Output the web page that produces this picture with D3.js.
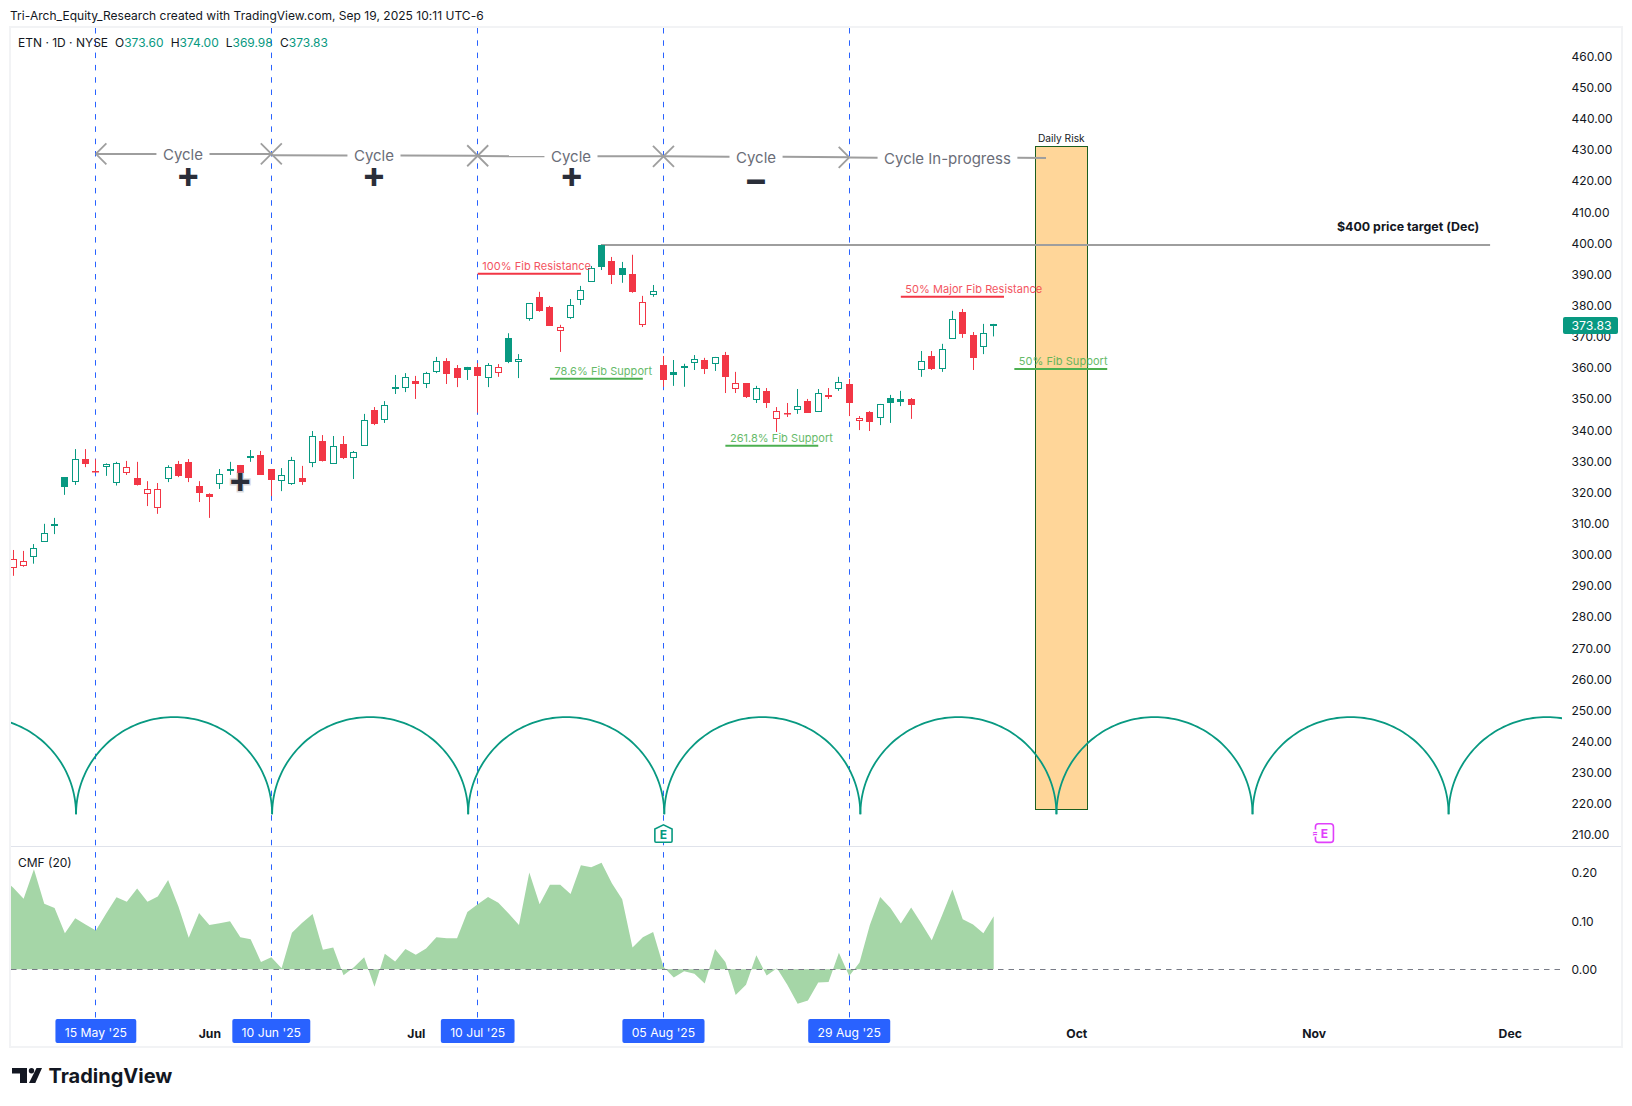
<![CDATA[<!DOCTYPE html>
<html><head><meta charset="utf-8">
<script src="https://cdn.jsdelivr.net/npm/d3@7/dist/d3.min.js"></script>
<style>html,body{margin:0;padding:0;background:#fff}svg{display:block}text{font-family:Inter,"Noto Sans",sans-serif}</style>
</head><body><svg id="c" width="1632" height="1106"></svg>
<script>
const opens=[295.8,296.2,299.4,304.2,309.4,324.8,323.4,330.5,326.7,328.2,323.1,326.3,324.5,319.6,315.1,324.4,329.0,329.7,321.9,319.4,322.8,326.9,328.7,331.0,331.9,327.4,323.8,322.8,324.5,329.8,
336.4,329.4,335.4,331.1,334.9,346.4,343.4,353.2,353.6,355.7,354.9,358.7,362.1,359.8,360.2,360.2,356.7,358.3,369.5,361.9,
375.7,382.6,379.4,371.8,376.3,381.8,387.6,399.4,394.2,392.0,390.0,374.0,383.4,360.8,358.6,360.0,361.6,362.4,361.3,364.0,
353.2,355.0,349.7,352.5,343.6,345.4,346.6,349.3,345.8,351.2,353.3,354.7,342.9,345.7,343.9,350.2,349.9,349.9,359.4,363.7,359.7,369.5,377.8,370.4,366.7,373.60];
const highs=[301.4,301.1,303.3,309.8,311.7,324.8,333.8,333.8,330.5,329.2,329.7,330.0,329.7,323.5,322.9,328.6,330.0,330.6,323.5,319.6,327.4,329.7,328.7,333.5,333.2,327.4,327.7,331.3,328.4,339.6,
338.3,338.0,338.0,333.2,345.1,347.3,349.2,357.6,358.2,357.3,358.6,363.4,363.0,360.8,360.2,361.4,361.4,361.1,371.0,364.3,
380.6,384.3,379.8,373.7,382.0,386.2,392.6,399.4,395.5,393.9,396.2,383.0,386.5,363.7,362.4,361.2,364.0,363.1,363.4,365.0,
358.6,355.0,354.1,353.4,347.3,348.6,353.1,349.9,353.1,353.4,357.0,356.3,344.4,346.0,348.3,351.2,352.5,350.2,365.3,365.3,367.6,378.2,378.8,371.4,374.0,374.00];
const lows=[293.1,296.0,297.0,304.1,306.5,319.1,322.3,328.0,326.3,325.2,322.1,325.5,322.1,315.5,313.0,323.2,324.8,323.2,316.8,311.7,321.0,325.5,321.2,329.7,325.5,318.7,320.3,322.3,322.3,328.0,
329.8,329.4,330.6,324.2,334.8,341.5,342.2,351.5,352.1,349.9,353.4,358.2,354.7,353.7,356.0,345.5,353.7,357.0,361.4,356.6,
375.0,377.9,373.4,365.0,375.6,380.1,387.5,391.3,386.8,387.2,384.0,373.0,382.7,353.8,354.1,353.8,359.2,357.9,358.9,351.8,
351.8,350.2,348.6,347.0,339.3,344.1,345.1,345.4,345.7,349.9,352.5,344.4,339.9,339.6,341.5,342.2,347.6,343.5,357.0,359.2,358.6,369.2,369.5,359.2,364.3,369.98];
const closes=[298.4,297.6,301.9,306.7,309.7,321.7,330.5,328.8,326.4,328.8,329.2,327.9,322.1,320.9,320.9,327.9,325.3,324.6,319.8,318.5,325.7,327.1,326.1,331.3,325.5,323.9,325.4,330.2,323.2,338.0,
330.0,334.7,331.0,332.8,343.0,341.9,347.9,353.5,356.8,354.7,358.1,362.0,357.9,356.6,359.2,357.3,360.5,360.0,361.8,362.6,
380.6,378.2,373.4,372.7,380.0,384.8,391.9,392.3,389.7,389.7,384.2,381.0,384.5,356.0,357.6,360.3,362.7,359.6,363.1,357.0,
354.9,350.5,353.3,348.6,345.9,345.2,347.5,345.4,351.7,350.6,355.2,348.6,343.7,342.5,348.0,348.6,348.9,348.0,362.0,359.5,365.8,375.5,370.8,363.1,371.0,373.83];
const tones="rrtttttrrttrrrrtrrrrttrtrrttrt"+"rtrttrtttrttrrtrtrtt"+"trrrttttrtrrtrtttrtr"+"rrtrrrtrtrtrrrtttrtrttrrtt";
const cmfPrior=0.186;
const cmf=[.168,.145,.206,.135,.126,.074,.105,.092,.080,.115,.148,.139,.166,.139,.150,.184,.129,.065,.116,.091,.095,.099,.066,.062,.015,.025,.002,.075,.096,.114,
.040,.045,-.012,.004,.025,-.036,.032,.016,.042,.030,.043,.066,.064,.064,.118,.134,.149,.137,.115,.091,
.199,.134,.174,.174,.155,.214,.210,.219,.177,.144,.045,.066,.077,.005,-.017,-.004,-.009,-.029,.042,.015,
-.053,-.032,.029,-.013,.002,-.032,-.071,-.064,-.027,-.026,.034,-.014,.014,.091,.149,.126,.094,.127,.094,.060,.111,.164,.103,.092,.074,.109];
const priceTicks=d3.range(210,461,10);
const cmfTicks=[0,0.1,0.2];
const monthBars=[19,39,103,126,145];
const monthLabels=["Jun","Jul","Oct","Nov","Dec"];
const cycleBars=[8,25,45,63,81];
const cycleLabels=["15 May '25","10 Jun '25","10 Jul '25","05 Aug '25","29 Aug '25"];
const cycleTexts=["Cycle","Cycle","Cycle","Cycle","Cycle In-progress"];
const cycleTextBars=[16.44,34.95,54.04,71.97,90.52];
const cycleStarts=[428.6,428.2,427.9,427.8,427.4];
const cycleEnds=[428.6,428.0,427.8,427.5,427.3];
const cycleEndBars=[25,45,63,81,100.07];
const fibLabels=["100% Fib Resistance","78.6% Fib Support","261.8% Fib Support","50% Major Fib Resistance","50% Fib Support"];
const fibPrices=[390.1,356.4,334.9,382.7,359.5];
const fibFrom=[45,52,69,86,97];
const fibTo=[55,61,78,96,106];
const fibKinds=["r","g","g","r","g"];
const signBars=[16.95,34.95,54.1,71.97,21.98];
const signPrices=[421.9,421.9,421.9,420.4,324.2];
const signTexts=["+","+","+","\u2212","+"];

const W=1632,H=1106;
const x=d3.scaleLinear().domain([0,95]).range([13.3,993.7]);
const y=d3.scaleLinear().domain([210,460]).range([834.6,56.1]);
const yc=d3.scaleLinear().domain([0,0.2]).range([969.3,872.1]);
const TEAL="#089981",RED="#F23645",BLUE="#2962FF",GRAY="#9e9e9e",INK="#131722";
const svg=d3.select("#c");
const snap=v=>Math.round(v-0.5)+0.5;
const defs=svg.append("defs");
defs.append("clipPath").attr("id","plot").append("rect").attr("x",11).attr("y",28).attr("width",1551).attr("height",1016);

// header
svg.append("text").attr("x",10).attr("y",20).attr("font-size",12).attr("letter-spacing",0.025).attr("fill",INK).text("Tri-Arch_Equity_Research created with TradingView.com, Sep 19, 2025 10:11 UTC-6");
// frame
svg.append("rect").attr("x",10).attr("y",27).attr("width",1612).attr("height",1020).attr("fill","#fff").attr("stroke","#f2f3f5").attr("stroke-width",2);
svg.append("line").attr("x1",11).attr("x2",1621).attr("y1",846.5).attr("y2",846.5).attr("stroke","#e0e3eb");

const plot=svg.append("g").attr("clip-path","url(#plot)");
// vertical markers
plot.selectAll(".v").data(cycleBars).join("line").attr("class","v")
 .attr("x1",d=>snap(x(d))).attr("x2",d=>snap(x(d))).attr("y1",28).attr("y2",1019)
 .attr("stroke",BLUE).attr("stroke-width",1).attr("stroke-dasharray","5.5 6.8");
// risk rectangle
const rx0=snap(x(99.05)),rx1=snap(x(104.1)),ry0=snap(y(431)),ry1=snap(y(217.9));
plot.append("rect").attr("x",rx0).attr("width",rx1-rx0).attr("y",ry0).attr("height",ry1-ry0)
 .attr("fill","#FFD699").attr("stroke","#1B5E20").attr("stroke-width",1);
plot.append("text").attr("x",x(101.55)).attr("y",y(431)-4.5).attr("text-anchor","middle").attr("font-size",10.2).attr("fill",INK).text("Daily Risk");
// time cycles
const arcPeriod=19,arcFirst=-12.92,arcBase=216.5,arcTop=247.75;
const arcLine=d3.line().x(d=>x(d[0])).y(d=>y(d[1]));
d3.range(0,9).forEach(k=>{
  const c=arcFirst+k*arcPeriod;
  const pts=d3.range(0,181,2).map(a=>{const t=a*Math.PI/180;return [c+arcPeriod/2-arcPeriod/2*Math.cos(t),arcBase+(arcTop-arcBase)*Math.sin(t)];});
  plot.append("path").attr("d",arcLine(pts)).attr("fill","none").attr("stroke",TEAL).attr("stroke-width",1.8);
});
// target line
plot.append("line").attr("x1",x(57)-0.5).attr("x2",x(143.1)).attr("y1",Math.round(y(399.4))).attr("y2",Math.round(y(399.4))).attr("stroke",GRAY).attr("stroke-width",2);
plot.append("text").attr("x",x(142)+0.5).attr("y",y(399.4)-13.5).attr("text-anchor","end").attr("font-size",12.4).attr("font-weight",700).attr("fill",INK).text("$400 price target (Dec)");
// candles
const cg=plot.append("g");
closes.forEach((c,i)=>{
  const col=tones[i]==="t"?TEAL:RED, o=opens[i], hollow=c>o, xc=snap(x(i));
  const top=Math.max(o,c), bot=Math.min(o,c);
  const yt=y(top), yb=y(bot);
  cg.append("line").attr("x1",xc).attr("x2",xc).attr("y1",y(highs[i])).attr("y2",y(lows[i])).attr("stroke",col);
  if(hollow){
    cg.append("rect").attr("x",xc-3).attr("width",6).attr("y",snap(yt)).attr("height",Math.max(1,Math.round(yb-yt))).attr("fill","#fff").attr("stroke",col);
  } else {
    cg.append("rect").attr("x",xc-3.5).attr("width",7).attr("y",Math.round(yt)).attr("height",Math.max(1.5,Math.round(yb-yt))).attr("fill",col);
  }
});
// CMF
const cmfPts=[[-1,cmfPrior]].concat(cmf.map((v,i)=>[i,v]));
plot.append("path").attr("d",d3.area().x(d=>x(d[0])).y0(yc(0)).y1(d=>yc(d[1]))(cmfPts)).attr("fill","#A5D6A7");
plot.append("line").attr("x1",11).attr("x2",1562).attr("y1",snap(yc(0))).attr("y2",snap(yc(0))).attr("stroke","#787b86").attr("stroke-dasharray","5.5 5");
// cycle arrows
const cyc=plot.append("g");
function seg(a,pa,b,pb){cyc.append("line").attr("x1",a).attr("x2",b).attr("y1",pa).attr("y2",pb).attr("stroke",GRAY).attr("stroke-width",2);}
cycleTexts.forEach((t,k)=>{
  const xa=x(cycleBars[k]),xb=x(cycleEndBars[k]),ya=y(cycleStarts[k]),yb=y(cycleEnds[k]),cx=x(cycleTextBars[k]);
  const tx=cyc.append("text").attr("x",cx).attr("y",(ya+yb)/2+0.6).attr("dy","0.35em").attr("text-anchor","middle").attr("font-size",15).attr("fill","#6a6d78").text(t);
  const w=tx.node().getComputedTextLength();
  const m=(ya+yb)/2;
  seg(xa,ya,cx-w/2-6.5,m); seg(cx+w/2+6.5,m,xb,yb);
});
function cross(px,py){const r=10.5;[[-r,-r,r,r],[-r,r,r,-r]].forEach(s=>cyc.append("line").attr("x1",px+s[0]).attr("y1",py+s[1]).attr("x2",px+s[2]).attr("y2",py+s[3]).attr("stroke",GRAY).attr("stroke-width",1.8));}
function head(px,py,dir){const r=10.5;[-r,r].forEach(s=>cyc.append("line").attr("x1",px).attr("y1",py).attr("x2",px+dir*r).attr("y2",py+s).attr("stroke",GRAY).attr("stroke-width",1.8));}
head(x(8),y(428.6),1);
cross(x(25),y(428.6));cross(x(45),y(428));cross(x(63),y(427.8));
head(x(81),y(427.5),-1);
// signs
signTexts.forEach((t,k)=>{
  const s=plot.append("text").attr("x",x(signBars[k])).attr("y",y(signPrices[k])).attr("dy","0.35em").attr("text-anchor","middle").attr("font-size",36).attr("font-weight",700).attr("fill","#2a2e39").text(t);
  if(k===4) s.attr("stroke","rgba(120,123,134,.28)").attr("stroke-width",3).attr("paint-order","stroke");
});
// fib levels
fibLabels.forEach((t,k)=>{
  const col=fibKinds[k]==="r"?RED:"#4CAF50";
  plot.append("line").attr("x1",x(fibFrom[k])).attr("x2",x(fibTo[k])).attr("y1",y(fibPrices[k])).attr("y2",y(fibPrices[k])).attr("stroke",col).attr("stroke-width",2);
  plot.append("text").attr("x",x(fibFrom[k])+4.5).attr("y",y(fibPrices[k])-7.8).attr("dy","0.35em").attr("font-size",11).attr("letter-spacing",0.05).attr("fill",col).attr("opacity",0.85).text(t);
});
// earnings icons
const ex=x(63);
const eg=plot.append("g").attr("transform",`translate(${ex},${y(210)-2})`);
eg.append("path").attr("d","M-8.6,-1 L-8.6,-3.5 L0,-7.8 L8.6,-3.5 L8.6,8.5 Q8.6,9.6 7.5,9.6 L-7.5,9.6 Q-8.6,9.6 -8.6,8.5 Z").attr("fill","#fff").attr("stroke",TEAL).attr("stroke-width",1.6);
eg.append("text").attr("y",6).attr("text-anchor","middle").attr("font-size",12).attr("font-weight",700).attr("fill",TEAL).text("E");
const px=x(127);
const pg=plot.append("g").attr("transform",`translate(${px},${y(210)-2})`);
pg.append("rect").attr("x",-8.5).attr("y",-8.8).attr("width",18).attr("height",18.6).attr("rx",3).attr("fill","#fff").attr("stroke","#E040FB").attr("stroke-width",1.6);
pg.append("rect").attr("x",-12).attr("y",-3).attr("width",6).attr("height",7).attr("fill","#fff");
pg.append("text").attr("x",-9).attr("y",3).attr("text-anchor","middle").attr("font-size",8).attr("font-weight",700).attr("fill","#E040FB").text("\u2248");
pg.append("text").attr("x",0.5).attr("y",5).attr("text-anchor","middle").attr("font-size",12).attr("font-weight",700).attr("fill","#E040FB").text("E");
// axes
function styleAxis(g){g.select(".domain").remove();g.selectAll("text").attr("font-family",'Inter,"Noto Sans",sans-serif').attr("font-size",12).attr("fill",INK).attr("dy","0.36em");}
svg.append("g").attr("transform","translate(1562,0)").call(d3.axisRight(y).tickValues(priceTicks).tickSize(0).tickPadding(9.5).tickFormat(d3.format(".2f"))).call(styleAxis);
svg.append("g").attr("transform","translate(1562,0)").call(d3.axisRight(yc).tickValues(cmfTicks).tickSize(0).tickPadding(9.5).tickFormat(d3.format(".2f"))).call(styleAxis);
svg.append("g").attr("transform","translate(0,1025)").call(d3.axisBottom(x).tickValues(monthBars).tickSize(0).tickPadding(4).tickFormat((d,i)=>monthLabels[i])).call(g=>{g.select(".domain").remove();g.selectAll("text").attr("font-family",'Inter,"Noto Sans",sans-serif').attr("font-size",12.2).attr("fill",INK).attr("font-weight",700);});
// date tags
cycleBars.forEach((b,k)=>{
  const g=svg.append("g");
  const t=g.append("text").attr("x",x(b)).attr("y",1036.5).attr("text-anchor","middle").attr("font-size",12.2).attr("fill","#fff").text(cycleLabels[k]);
  const w=t.node().getComputedTextLength()+18.6;
  g.insert("rect","text").attr("x",x(b)-w/2).attr("y",1019).attr("width",w).attr("height",24).attr("rx",2).attr("fill",BLUE);
});
// price tag
const last=closes[closes.length-1];
svg.append("rect").attr("x",1563).attr("y",y(last)-7.5).attr("width",55).attr("height",17).attr("rx",2).attr("fill",TEAL);
svg.append("text").attr("x",1571.5).attr("y",y(last)+1).attr("dy","0.35em").attr("font-size",12.3).attr("fill","#fff").text(d3.format(".2f")(last));
// legend
const lg=svg.append("text").attr("x",18).attr("y",47).attr("font-size",12).attr("fill",INK);
lg.append("tspan").text("ETN \u00b7 1D \u00b7 NYSE");
[["O",opens],["H",highs],["L",lows],["C",closes]].forEach((p,k)=>{
  lg.append("tspan").attr("x",[115,170.7,225.7,280][k]).text(p[0]);
  lg.append("tspan").attr("fill",TEAL).text(p[1][p[1].length-1].toFixed(2));
});
svg.append("text").attr("x",18).attr("y",867).attr("font-size",12).attr("fill",INK).text("CMF (20)");
// logo
const lo=svg.append("g").attr("fill","#131722");
lo.append("path").attr("d","M12,1068 H27 V1083 H20 V1073.5 H12 Z");
lo.append("circle").attr("cx",31.5).attr("cy",1070.7).attr("r",2.7);
lo.append("path").attr("d","M36.5,1068 H42 L35.3,1083 H29 Z");
svg.append("text").attr("x",48.5).attr("y",1083).attr("font-size",20).attr("font-weight",700).attr("fill","#131722").text("TradingView");
</script></body></html>]]>
